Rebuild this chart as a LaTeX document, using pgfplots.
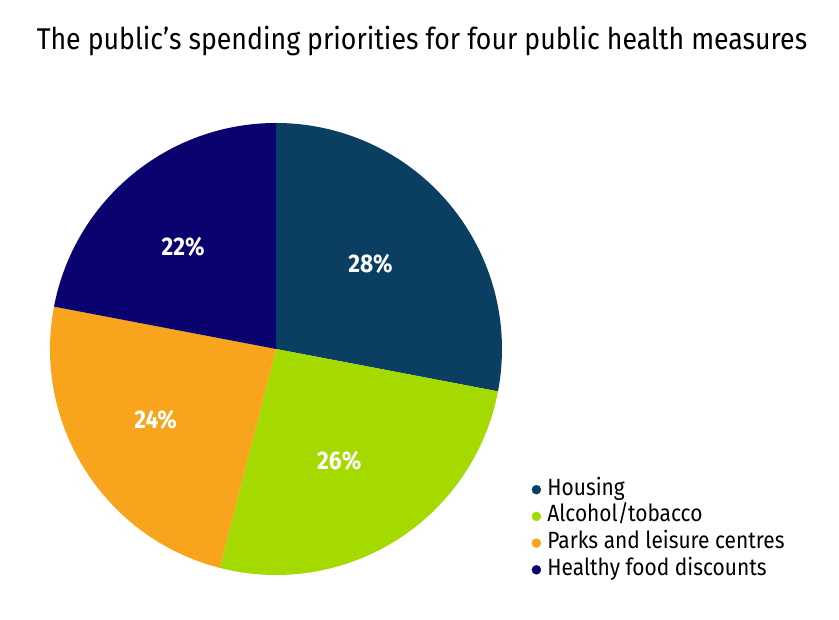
\documentclass[border=0pt]{standalone}
\usepackage{pgfplots}
\pgfplotsset{compat=1.18}
\usepackage{fontspec}
\setmainfont{Fira Sans}[FakeStretch=0.89]
\definecolor{housing}{HTML}{0B3F62}
\definecolor{alcohol}{HTML}{A4DA00}
\definecolor{parks}{HTML}{F9A41D}
\definecolor{healthy}{HTML}{0A036F}
% data (percent)
\def\vH{28}\def\vA{26}\def\vP{24}\def\vF{22}
\pgfmathsetmacro\aS{90}
\pgfmathsetmacro\aH{\aS-3.6*\vH}
\pgfmathsetmacro\aA{\aH-3.6*\vA}
\pgfmathsetmacro\aP{\aA-3.6*\vP}
\pgfmathsetmacro\aF{\aP-3.6*\vF}
\pgfmathsetmacro\mH{(\aS+\aH)/2}
\pgfmathsetmacro\mA{(\aH+\aA)/2}
\pgfmathsetmacro\mP{(\aA+\aP)/2}
\pgfmathsetmacro\mF{(\aP+\aF)/2}
\newcommand\slice[3]{\fill[#3] (axis cs:276,271) -- ++(#1:226pt) arc[start angle=#1,end angle=#2,radius=226pt] -- cycle;}
\newcommand\plabel[2]{\path (axis cs:276,271) ++(#1:133pt) node[xshift=-8pt,text=white,font=\bfseries\fontsize{25.5}{30}\selectfont]{#2\%};}
\begin{document}
\begin{tikzpicture}
\begin{axis}[x=1pt,y=1pt,xmin=0,xmax=839,ymin=0,ymax=620,hide axis,clip=false,
  legend style={at={(axis description cs:0.6335,0.232)},anchor=north west,draw=none,fill=none,
    font=\fontsize{23.5}{28}\selectfont,inner sep=0pt,
    nodes={text height=17pt,text depth=6pt,inner ysep=1.85pt},
    cells={anchor=west}},
  legend image code/.code={\fill[#1] (0pt,0pt) circle (4.5pt); \path[draw=none,fill=none] (-4.5pt,-0.1pt) rectangle (9pt,0.1pt);}]
\path (axis cs:0,0) rectangle (axis cs:839,620);
\slice{\aS}{\aH}{housing}
\slice{\aH}{\aA}{alcohol}
\slice{\aA}{\aP}{parks}
\slice{\aP}{\aF}{healthy}
\plabel{\mH}{\vH}
\plabel{\mA}{\vA}
\plabel{\mP}{\vP}
\plabel{\mF}{\vF}
\node[anchor=base,font=\fontsize{30}{36}\selectfont] at (axis cs:422,570) {The public’s spending priorities for four public health measures};
\addlegendimage{housing}\addlegendentry{Housing}
\addlegendimage{alcohol}\addlegendentry{Alcohol/tobacco}
\addlegendimage{parks}\addlegendentry{Parks and leisure centres}
\addlegendimage{healthy}\addlegendentry{Healthy food discounts}
\end{axis}
\end{tikzpicture}
\end{document}
